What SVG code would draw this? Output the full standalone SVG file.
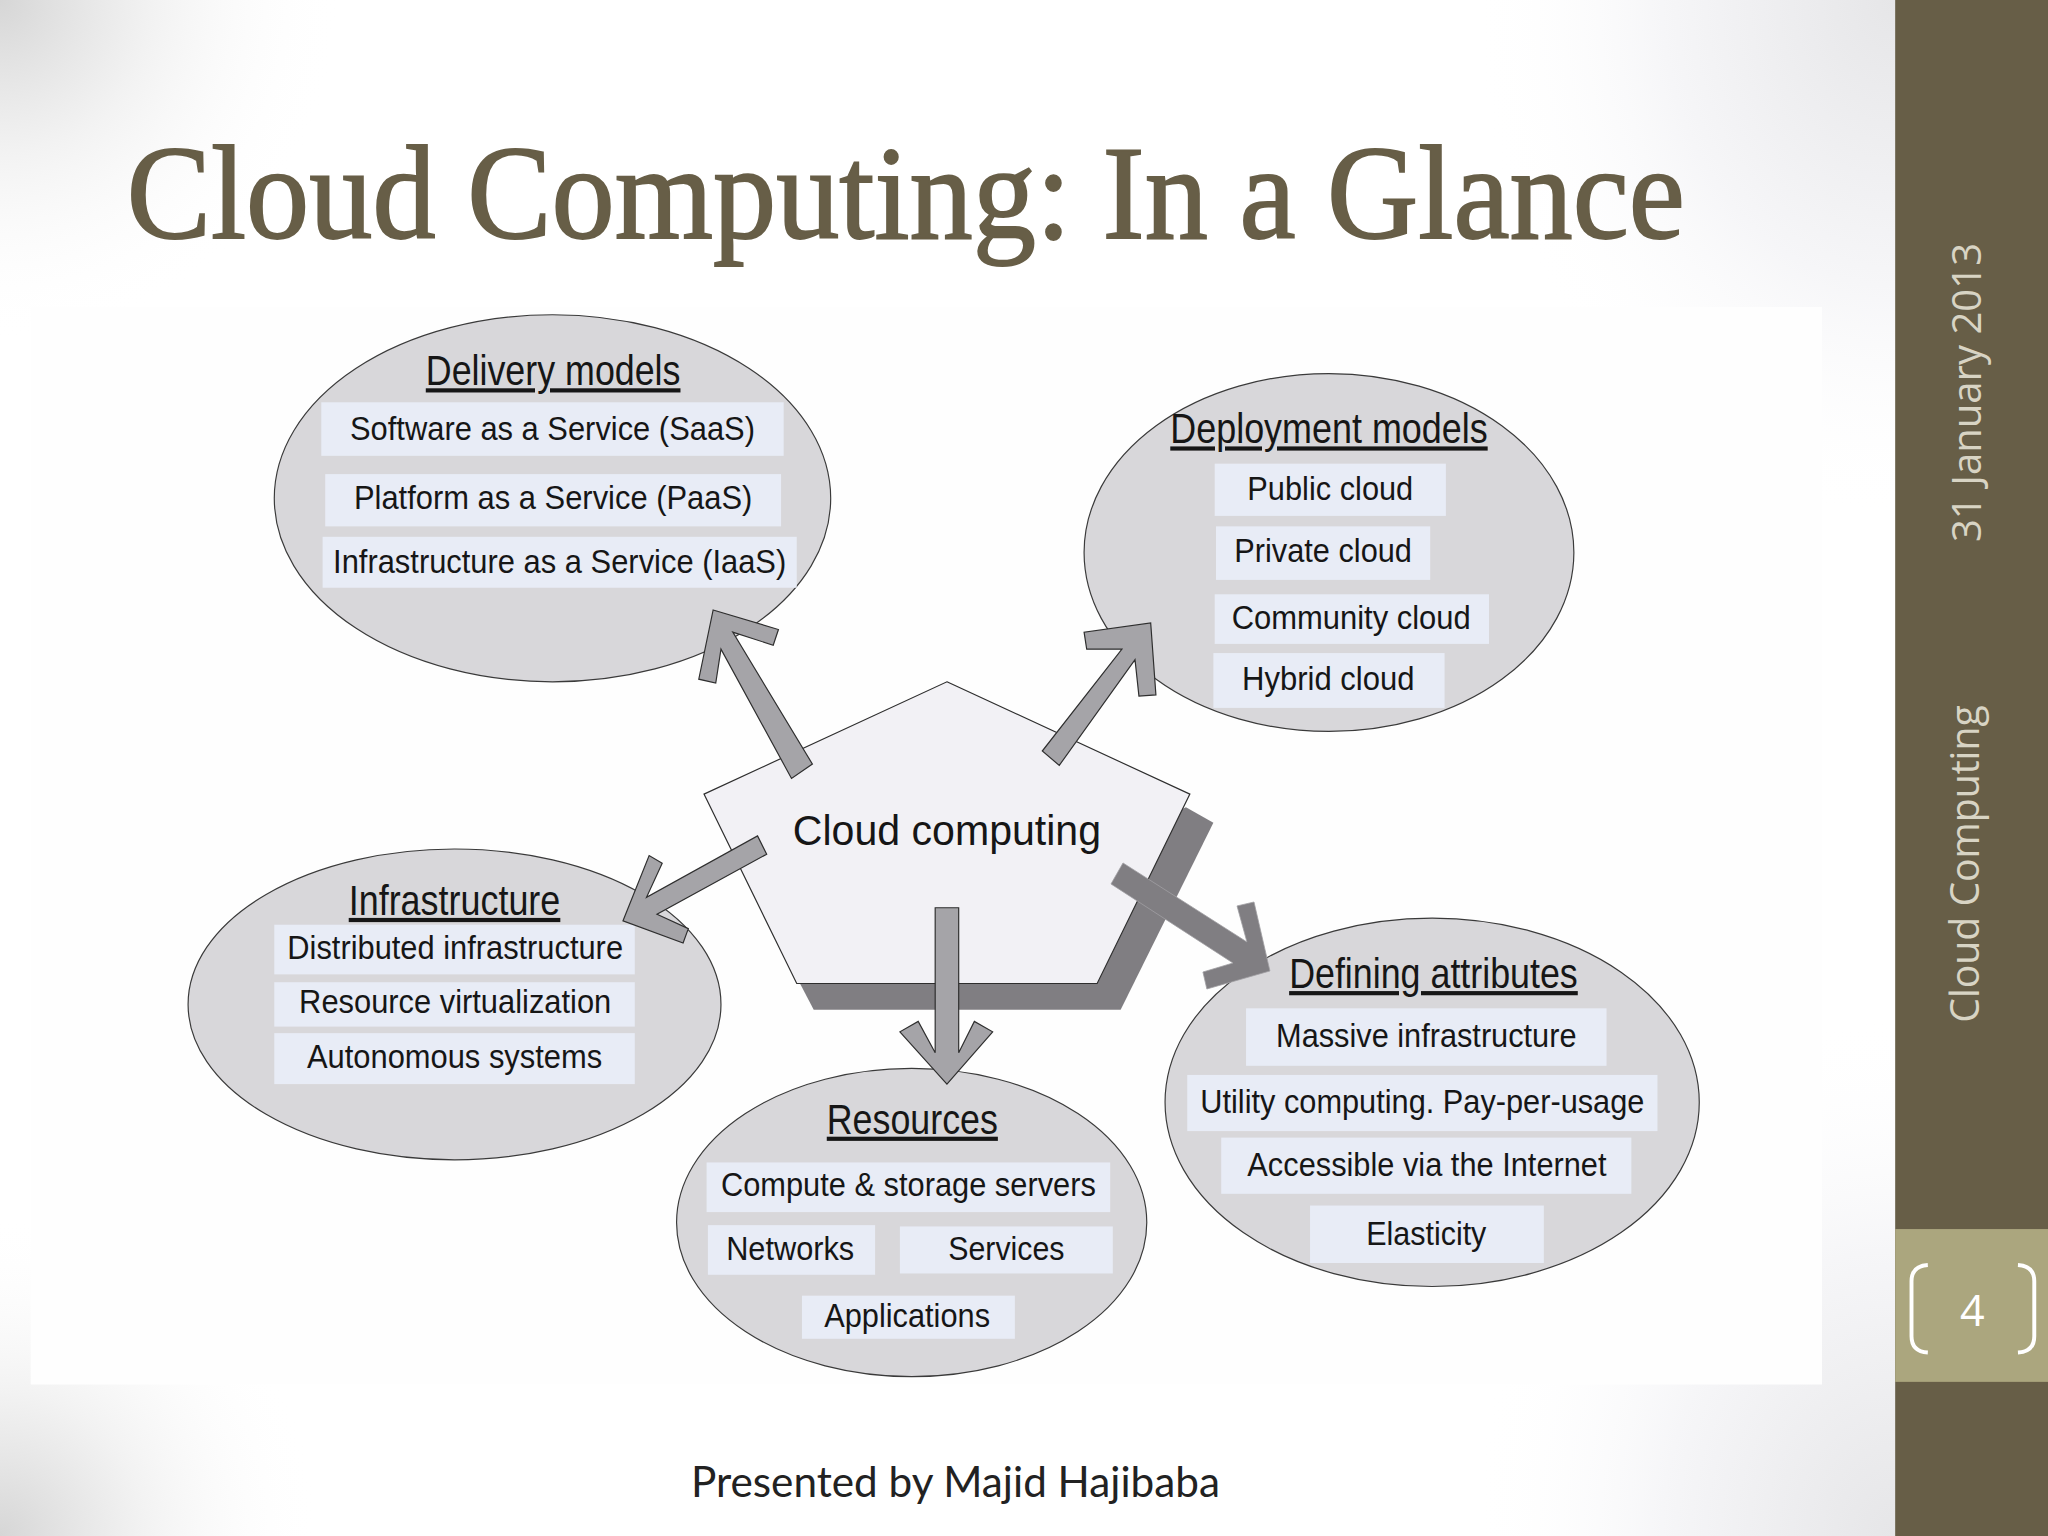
<svg xmlns="http://www.w3.org/2000/svg" width="2048" height="1536" viewBox="0 0 2048 1536">
<style>
.oval{fill:#d8d7da;stroke:#3a3a3a;stroke-width:.9}
.box{fill:#e8ecf6}
.t{font-family:"Liberation Sans",Arial,sans-serif;font-size:26px;fill:#161616}
.h{font-family:"Liberation Sans",Arial,sans-serif;font-size:32px;fill:#161616;text-decoration:underline}
.arrow{fill:#a5a4a8;stroke:#2e2e2e;stroke-width:.9;stroke-linejoin:miter}
.side{font-family:"Open Sans",sans-serif;font-size:31px;fill:#d8d4c4}
</style>
<defs>
<radialGradient id="c1"><stop offset="0" stop-color="#d6d6d6"/><stop offset=".45" stop-color="#f0f0f0" stop-opacity=".85"/><stop offset="1" stop-color="#ffffff" stop-opacity="0"/></radialGradient>
<radialGradient id="c2"><stop offset="0" stop-color="#e6e6e8"/><stop offset=".55" stop-color="#f6f6f8"/><stop offset="1" stop-color="#ffffff" stop-opacity="0"/></radialGradient>
</defs>
<rect id="background" width="2048" height="1536" fill="#ffffff"/>
<circle cx="0" cy="0" r="340" fill="url(#c1)"/>
<circle cx="0" cy="1536" r="320" fill="url(#c1)"/>
<ellipse cx="1893" cy="0" rx="420" ry="520" fill="url(#c2)"/>
<ellipse cx="1893" cy="1536" rx="420" ry="520" fill="url(#c2)"/>
<g transform="scale(1.30612)">
<rect id="picture" x="23.500" y="235" width="1371.500" height="825" fill="#fefefe"/>
<g id="sidebar">
<rect x="1451" y="0" width="117" height="1176" fill="#675e47"/>
<rect x="1451" y="941" width="117" height="117" fill="#aba67e"/>
<path d="M1476 968.500C1468 969 1463.500 973 1463.500 981V1023C1463.500 1031 1468 1035 1476 1035.500M1545 968.500C1553 969 1557.500 973 1557.500 981V1023C1557.500 1031 1553 1035 1545 1035.500" fill="none" stroke="#ffffff" stroke-width="3"/>
<text x="1510" y="1015" text-anchor="middle" font-family="Open Sans,sans-serif" font-size="33" fill="#ffffff">4</text>
<text class="side" transform="translate(1517 415) rotate(-90)" textLength="229" lengthAdjust="spacingAndGlyphs">31 January 2013</text>
<text class="side" transform="translate(1515.500 783) rotate(-90)" textLength="243" lengthAdjust="spacingAndGlyphs">Cloud Computing</text>
</g>
<text id="title" x="97" y="182" font-family="Liberation Serif,serif" font-size="102" fill="#675e47" stroke="#675e47" stroke-width="1.400" textLength="1193" lengthAdjust="spacingAndGlyphs">Cloud Computing: In a Glance</text>
<text id="footer" x="529" y="1146" font-family="Lato,sans-serif" font-size="32" fill="#222222" textLength="405" lengthAdjust="spacingAndGlyphs">Presented by Majid Hajibaba</text>

<g id="delivery-models">
<ellipse class="oval" cx="423" cy="381.500" rx="213" ry="140.500"/>
<rect class="box" x="246" y="308" width="354" height="41"/>
<rect class="box" x="249" y="363" width="349" height="40"/>
<rect class="box" x="247" y="411" width="363" height="39"/>
<text class="h" x="326" y="295" textLength="195" lengthAdjust="spacingAndGlyphs">Delivery models</text>
<text class="t" x="268" y="337" textLength="310" lengthAdjust="spacingAndGlyphs">Software as a Service (SaaS)</text>
<text class="t" x="271" y="390" textLength="305" lengthAdjust="spacingAndGlyphs">Platform as a Service (PaaS)</text>
<text class="t" x="255" y="439" textLength="347" lengthAdjust="spacingAndGlyphs">Infrastructure as a Service (IaaS)</text>
</g>
<g id="deployment-models">
<ellipse class="oval" cx="1017.500" cy="423" rx="187.500" ry="137"/>
<rect class="box" x="930" y="355" width="177" height="40"/>
<rect class="box" x="931" y="403" width="164" height="41"/>
<rect class="box" x="930" y="455" width="210" height="38"/>
<rect class="box" x="929" y="500" width="177" height="42"/>
<text class="h" x="896" y="339.500" textLength="243" lengthAdjust="spacingAndGlyphs">Deployment models</text>
<text class="t" x="955" y="383" textLength="127" lengthAdjust="spacingAndGlyphs">Public cloud</text>
<text class="t" x="945" y="430" textLength="136" lengthAdjust="spacingAndGlyphs">Private cloud</text>
<text class="t" x="943" y="481.500" textLength="183" lengthAdjust="spacingAndGlyphs">Community cloud</text>
<text class="t" x="951" y="528.500" textLength="132" lengthAdjust="spacingAndGlyphs">Hybrid cloud</text>
</g>
<g id="infrastructure">
<ellipse class="oval" cx="348" cy="769" rx="204" ry="119"/>
<rect class="box" x="210" y="708" width="276" height="38"/>
<rect class="box" x="210" y="752" width="276" height="34"/>
<rect class="box" x="210" y="791" width="276" height="39"/>
<text class="h" x="267" y="700.500" textLength="162" lengthAdjust="spacingAndGlyphs">Infrastructure</text>
<text class="t" x="220" y="734" textLength="257" lengthAdjust="spacingAndGlyphs">Distributed infrastructure</text>
<text class="t" x="229" y="775.500" textLength="239" lengthAdjust="spacingAndGlyphs">Resource virtualization</text>
<text class="t" x="235" y="818" textLength="226" lengthAdjust="spacingAndGlyphs">Autonomous systems</text>
</g>
<g id="resources">
<ellipse class="oval" cx="698" cy="936" rx="180" ry="118"/>
<rect class="box" x="541" y="890" width="309" height="38"/>
<rect class="box" x="542" y="938" width="128" height="38"/>
<rect class="box" x="689" y="939" width="163" height="36"/>
<rect class="box" x="614" y="992" width="163" height="33"/>
<text class="h" x="633" y="868" textLength="131" lengthAdjust="spacingAndGlyphs">Resources</text>
<text class="t" x="552" y="916" textLength="287" lengthAdjust="spacingAndGlyphs">Compute &amp; storage servers</text>
<text class="t" x="556" y="965" textLength="98" lengthAdjust="spacingAndGlyphs">Networks</text>
<text class="t" x="726" y="965" textLength="89" lengthAdjust="spacingAndGlyphs">Services</text>
<text class="t" x="631" y="1016" textLength="127" lengthAdjust="spacingAndGlyphs">Applications</text>
</g>
<g id="defining-attributes">
<ellipse class="oval" cx="1096.500" cy="844" rx="204.500" ry="141"/>
<rect class="box" x="954" y="772" width="276" height="44"/>
<rect class="box" x="909" y="823" width="360" height="43"/>
<rect class="box" x="935" y="871" width="314" height="43"/>
<rect class="box" x="1003" y="923" width="179" height="44"/>
<text class="h" x="987" y="756.500" textLength="221" lengthAdjust="spacingAndGlyphs">Defining attributes</text>
<text class="t" x="977" y="801.500" textLength="230" lengthAdjust="spacingAndGlyphs">Massive infrastructure</text>
<text class="t" x="919" y="852" textLength="340" lengthAdjust="spacingAndGlyphs">Utility computing. Pay-per-usage</text>
<text class="t" x="955" y="900" textLength="275" lengthAdjust="spacingAndGlyphs">Accessible via the Internet</text>
<text class="t" x="1046" y="953" textLength="92" lengthAdjust="spacingAndGlyphs">Elasticity</text>
</g>
<g id="cloud-computing">
<polygon points="908,618 929,630 858,773 623,773 612,752" fill="#807e82"/>
<polygon points="725,522 911,608 840,753 610,753 539,608" fill="#f2f1f5" stroke="#2e2e2e" stroke-width=".9"/>
<text x="607" y="647" font-family="Liberation Sans,Arial,sans-serif" font-size="33" fill="#161616" textLength="236" lengthAdjust="spacingAndGlyphs">Cloud computing</text>
</g>
<g id="connectors">
<polygon class="arrow" points="546,467 596,482 592,494 561,484 622,585 606,596 552,497 548,523 535,520"/>
<polygon class="arrow" points="881,477 885,532 872,533 869,505 811,586 798,575 859,497 832,497 830,484"/>
<polygon class="arrow" points="477,705 497,655 507,661 495,687 580,640 587,654 503,700 527,711 523,722"/>
<polygon class="arrow" points="716,695 734,695 734,806 746,782 760,790 725,830 689,790 703,782 716,806"/>
<polygon points="972.300,743.400 924,757.200 921,744.200 944,737.300 850.600,676.800 859.800,660.700 954.700,721.200 947.100,693.600 960.100,690.600" fill="#807e82" stroke="#a09fa3" stroke-width=".6"/>
</g>
</g>
</svg>
